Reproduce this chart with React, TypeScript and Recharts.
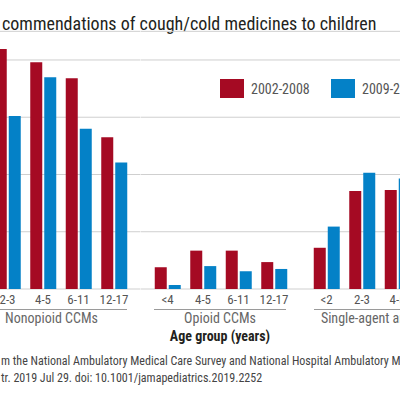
import React from 'react';
import { BarChart, Bar, XAxis, YAxis, CartesianGrid } from 'recharts';

// values (one grid step = 10 units)
const nonopioidAges = ['2-3', '4-5', '6-11', '12-17'];
const nonopioidEarly = [41.9, 39.6, 36.8, 26.5];
const nonopioidLate = [30.2, 37.0, 28.0, 22.1];

const opioidAges = ['<4', '4-5', '6-11', '12-17'];
const opioidEarly = [3.8, 6.7, 6.7, 4.7];
const opioidLate = [0.7, 4.0, 3.1, 3.5];

const antihistAges = ['<2', '2-3', '4-5'];
const antihistEarly = [7.2, 17.1, 17.3];
const antihistLate = [10.9, 20.3, 19.3];

const seriesNames = ['2002-2008', '2009-2015'];
const seriesColors = ['#A50A23', '#0481C7'];
const yTicks = [0, 10, 20, 30, 40];

const FONT = "'Liberation Sans Narrow', 'Roboto Condensed', 'Liberation Sans', sans-serif";

interface GroupProps {
  ages: string[];
  early: number[];
  late: number[];
  left: number;
  width: number;
}

function GroupChart({ ages, early, late, left, width }: GroupProps) {
  const data = ages.map((age, i) => ({ age, early: early[i], late: late[i] }));
  return (
    <div style={{ position: 'absolute', left, top: 0 }}>
      <BarChart
        width={width}
        height={320}
        data={data}
        margin={{ top: 31.34, right: 0, bottom: 11, left: 0 }}
        barGap={2}
      >
        <CartesianGrid vertical={false} stroke="#cfcfcf" />
        <XAxis
          dataKey="age"
          height={20}
          axisLine={false}
          tickLine={false}
          tickSize={4}
          interval={0}
          padding={{ left: 8.75, right: 8.75 }}
          tick={{ fill: '#555', fontSize: 13, fontFamily: FONT }}
        />
        <YAxis hide domain={[0, 45]} ticks={yTicks} />
        <Bar dataKey="early" name={seriesNames[0]} fill={seriesColors[0]} barSize={12} isAnimationActive={false} />
        <Bar dataKey="late" name={seriesNames[1]} fill={seriesColors[1]} barSize={12} isAnimationActive={false} />
      </BarChart>
    </div>
  );
}

function GroupLabel({ text, left, width }: { text: string; left: number; width: number }) {
  return (
    <div
      style={{
        position: 'absolute',
        left,
        top: 309,
        width,
        borderTop: '1px solid #9a9a9a',
        textAlign: 'center',
        fontSize: 14,
        lineHeight: '17px',
        color: '#666',
        whiteSpace: 'nowrap',
        fontFamily: FONT,
      }}
    >
      {text}
    </div>
  );
}

export default function App() {
  return (
    <div
      style={{
        position: 'fixed',
        left: 0,
        top: 0,
        width: 400,
        height: 400,
        overflow: 'hidden',
        background: '#fff',
        fontFamily: FONT,
      }}
    >
      <div style={{ position: 'absolute', left: 2, top: 13, fontSize: 18, lineHeight: '22px', color: '#231f20', whiteSpace: 'nowrap' }}>
        commendations of cough/cold medicines to children
      </div>

      <GroupChart ages={nonopioidAges} early={nonopioidEarly} late={nonopioidLate} left={-19} width={159.5} />
      <GroupChart ages={opioidAges} early={opioidEarly} late={opioidLate} left={140.5} width={159.5} />
      <GroupChart ages={antihistAges} early={antihistEarly} late={antihistLate} left={300} width={124} />

      <GroupLabel text="Nonopioid CCMs" left={-24} width={151} />
      <GroupLabel text="Opioid CCMs" left={154} width={132} />
      <GroupLabel text="Single-agent antihistamines" left={314} width={167} />

      {/* legend */}
      {seriesNames.map((name, i) => (
        <div key={name} style={{ position: 'absolute', left: 220 + i * 111, top: 79, display: 'flex', alignItems: 'center', whiteSpace: 'nowrap' }}>
          <div style={{ width: 24, height: 19, background: seriesColors[i] }} />
          <span style={{ marginLeft: 7, fontSize: 14, color: '#555' }}>{name}</span>
        </div>
      ))}

      <div style={{ position: 'absolute', left: 0, width: 440, top: 328, textAlign: 'center', fontSize: 14, fontWeight: 'bold', color: '#231f20' }}>
        Age group (years)
      </div>

      <div style={{ position: 'absolute', left: 1, top: 353, fontSize: 12, lineHeight: '17px', color: '#444', whiteSpace: 'nowrap' }}>
        m the National Ambulatory Medical Care Survey and National Hospital Ambulatory Medical Care Survey
        <br />
        tr. 2019 Jul 29. doi: 10.1001/jamapediatrics.2019.2252
      </div>
    </div>
  );
}
